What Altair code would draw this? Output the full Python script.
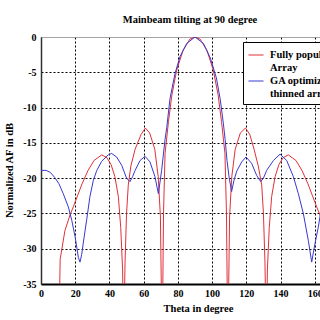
import altair as alt
import pandas as pd

series_names = ["Fully populated Array", "GA optimized thinned array"]
x_ticks = [0, 20, 40, 60, 80, 100, 120, 140, 160, 180]
y_ticks = [-35, -30, -25, -20, -15, -10, -5, 0]

red_theta = [0, 10.3, 11.2, 14, 17, 19, 21.5, 24, 27.5, 31, 35.5, 38.5, 41, 43.2, 45.2,
             46.6, 47.7, 48.3, 49.1, 50, 51, 52.5, 55, 58.5, 61, 63.5, 66.5, 68.5, 69.8,
             70.8, 71.6, 72.5, 74.5, 76.5, 79.3, 83, 87, 90, 93, 97, 100.7, 103.5, 105.5,
             107.5, 108.4, 109.2, 110.2, 111.5, 113.5, 116.5, 119.5, 122, 124.5, 127, 129,
             130, 130.9, 131.7, 132.3, 133.4, 134.8, 136.8, 139, 141.5, 144.5, 149, 152.5,
             156, 158.5, 161, 163, 166, 168.8, 169.7, 180]
red_db = [-45, -45, -31.5, -27.4, -25.2, -24, -22.4, -20.8, -18.9, -17.5, -16.7, -17.1, -18.1, -19.8, -22.6,
          -27, -33, -45, -32, -25, -21, -18.3, -15.9, -13.8, -12.9, -13.6, -15.9, -19.8, -25.5,
          -45, -25, -16.5, -12, -8.2, -4.7, -1.9, -0.3, 0, -0.3, -1.9, -4.7, -8.2, -12,
          -16.5, -25, -45, -25.5, -19.8, -15.9, -13.6, -12.9, -13.8, -15.9, -18.3, -21,
          -25, -32, -45, -33, -27, -22.6, -19.8, -18.1, -17.1, -16.7, -17.5, -18.9,
          -20.8, -22.4, -24, -25.2, -27.4, -31.5, -45, -45]

blue_theta = [0, 3, 5.5, 8, 10.5, 13, 16, 18, 20, 21.8, 22.8, 23.8, 24.7, 26.7, 28.6, 30.6,
              32.6, 35.5, 39.3, 41.3, 44.2, 47.2, 50, 52, 53.5, 55, 57.9, 60.8, 63.7, 66.6,
              68.6, 70.5, 72.5, 73.5, 75.4, 78.3, 81.2, 85.2, 90, 94.9, 99, 102.5, 104.8,
              106.6, 107.6, 108.7, 110, 111.4, 112.8, 114.4, 117.3, 119.8, 123.1, 126, 128.4,
              130, 131.9, 135.8, 139.7, 143.6, 147.5, 150.4, 153.3, 156.2, 158.2, 160.1,
              162.1, 164, 167, 170, 173, 176, 180]
blue_db = [-18.9, -18.9, -19.2, -19.9, -20.8, -22.2, -24.1, -26, -28.4, -31.2, -31.9, -30.8, -29.2, -25.9, -22.6, -20.3,
           -18.9, -17.6, -16.7, -16.5, -17, -18.2, -20, -20.5, -19.8, -18.9, -17.5, -16.9, -17.7, -19.8,
           -22.2, -18.9, -14.5, -12.8, -8.7, -5.2, -2.8, -0.9, 0, -0.9, -3, -5.8, -8.9,
           -12.3, -14.5, -17.5, -20, -21.9, -20.3, -19, -17.7, -17, -17.9, -19.6, -20.5,
           -20, -18.9, -17.5, -16.6, -17.5, -19.8, -22.2, -25, -28.8, -31.9, -29.3,
           -26.9, -24, -22.2, -20.8, -19.8, -19.2, -18.9]

df = pd.concat([
    pd.DataFrame({"theta": red_theta, "db": red_db, "series": series_names[0]}),
    pd.DataFrame({"theta": blue_theta, "db": blue_db, "series": series_names[1]}),
])

serif = "Liberation Serif"
red = "#e03038"
blue = "#3838d0"

x_axis = alt.Axis(
    values=x_ticks, title="Theta in degree", titleFont=serif, titleFontSize=10.5,
    titleFontWeight="bold", titleColor="black", titleX=157, titleY=27,
    titleBaseline="alphabetic", titleAlign="center",
    labelFont=serif, labelFontSize=10, labelFontWeight="bold", labelColor="black",
    labelPadding=4, labelFlush=False, labelOverlap=False, ticks=False,
    domainColor="black", domainWidth=2, grid=True, gridColor="black",
    gridDash=[2, 2], gridWidth=1, gridOpacity=1,
)
y_axis = alt.Axis(
    values=y_ticks, labelExpr="toString(datum.value)", title="Normalized AF in dB",
    titleFont=serif, titleFontSize=10.5, titleFontWeight="bold", titleColor="black",
    titleX=-28.5, titleY=133, titleBaseline="alphabetic", titleAlign="center", titleAngle=270,
    labelFont=serif, labelFontSize=10, labelFontWeight="bold", labelColor="black",
    labelPadding=5, labelFlush=False, labelOverlap=False, ticks=False,
    domainColor="#303030", domainWidth=1.5, grid=True,
    gridColor={"condition": {"test": "datum.value === 0", "value": "#909090"}, "value": "black"},
    gridDash={"condition": {"test": "datum.value === 0", "value": [1, 0]}, "value": [2, 2]},
    gridWidth=1, gridOpacity=1,
)
legend = alt.Legend(
    orient="none", legendX=202, legendY=5, padding=5, strokeColor="black", fillColor="white",
    labelExpr="datum.value == 'Fully populated Array' ? ['Fully populated', 'Array'] : ['GA optimized', 'thinned array']",
    labelFont=serif, labelFontSize=10.5, labelFontWeight="bold", labelColor="black",
    labelLimit=300, labelOffset=6, labelBaseline="middle", symbolType="stroke", symbolSize=225,
    symbolStrokeWidth=1, rowPadding=0,
)

chart = alt.Chart(df).mark_line(strokeWidth=1, clip=True).encode(
    x=alt.X("theta:Q", scale=alt.Scale(domain=[0, 180], range=[0, 308], nice=False), axis=x_axis),
    y=alt.Y("db:Q", scale=alt.Scale(domain=[-35, 0], nice=False), axis=y_axis),
    color=alt.Color("series:N", scale=alt.Scale(domain=series_names, range=[red, blue]),
                    legend=legend, title=None),
).properties(
    width=279, height=247,
    title=alt.Title("Mainbeam tilting at 90 degree", font=serif, fontSize=10.5, fontWeight="bold",
                    color="black", dx=9.5, dy=16, offset=14.5, baseline="alphabetic", frame="group"),
    padding={"left": 41, "top": 37, "right": 0, "bottom": 36},
    autosize="none",
).configure_view(stroke=None).configure(background="white")

chart.save("out.html", embed_options={"renderer": "svg", "actions": False})
